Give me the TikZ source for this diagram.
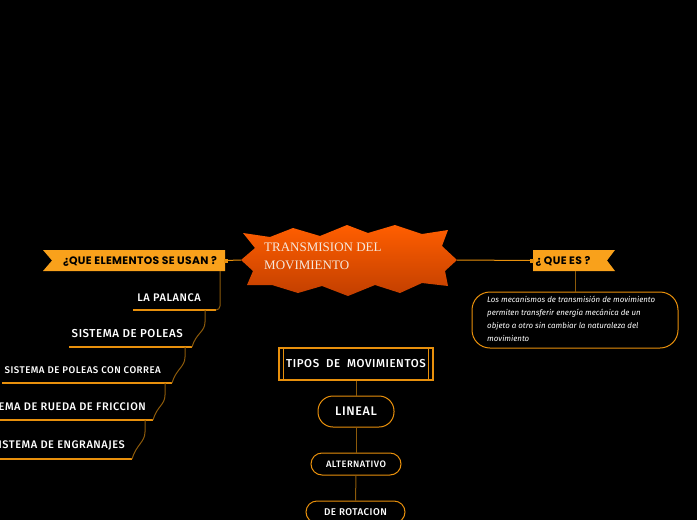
\documentclass[tikz,border=0pt]{standalone}
\usepackage{fontspec}
\setmainfont{Fira Sans}
\newfontfamily\hand{Fira Sans}[UprightFont=* Medium, LetterSpace=5]
\newfontfamily\bannerfont{Poppins}[LetterSpace=3]
\newfontfamily\titlefont{Liberation Serif}
\usetikzlibrary{calc,positioning}
\definecolor{lineorange}{HTML}{E8900C}
\definecolor{linkbrown}{HTML}{8C5A0A}
\definecolor{bannerfill}{HTML}{F9A11B}
\definecolor{startop}{HTML}{FF5E00}
\definecolor{starbot}{HTML}{C23F00}
\definecolor{titletext}{HTML}{F6E8DC}
\tikzset{
	rule/.style={draw=lineorange, line width=1.3pt},
	linkc/.style={draw=linkbrown, line width=1pt},
	mainc/.style={draw=lineorange, line width=1pt},
	item/.style={text=white, inner sep=0pt, anchor=base east},
	pill/.style={draw=lineorange, line width=1pt, rounded corners=11pt, text=white, inner sep=0pt},
	banner/.style={fill=bannerfill},
}
\begin{document}
\begin{tikzpicture}[x=1pt, y=-1pt]
		%%%%% START %%%%%
		\fill[black] (0,0) rectangle (697,520);
		\useasboundingbox (0,0) rectangle (697,520);
		
		% central star
		\shade[top color=startop, bottom color=starbot] (243,233) -- (270,237) -- (293,228) -- (320,236) -- (347,225) -- (368,233) -- (395,225) -- (422,234) -- (448,230) -- (442,246) -- (457,260) -- (445,271) -- (448,286) -- (422,283) -- (400,293) -- (375,285) -- (348,296) -- (322,286) -- (298,293) -- (272,285) -- (247,285) -- (253,271) -- (241,260) -- (255,248) -- cycle;
		\node[text=titletext, font=\titlefont\fontsize{13}{18}\selectfont, align=left, anchor=north west, inner sep=0pt] (title) at (264,242.5) {TRANSMISION DEL\\MOVIMIENTO};
		\coordinate (starL) at (241,260);
		\coordinate (starR) at (457,260);
		
		% left banner
		\fill[banner] (43,250) -- (225,250) -- (225,271) -- (43,271) -- (52,260.5) -- cycle;
		\node[font=\bannerfont\bfseries\fontsize{10.8}{12}\selectfont, inner sep=0pt] (usan) at (140,261) {¿QUE ELEMENTOS SE USAN ?};
		\coordinate (usanR) at (225,260.5);
		\coordinate (usanB) at (220,271);
		\draw[mainc] (starL) -- (usanR);
		\fill[lineorange] (224,258.5) rectangle (228,262.5);
		
		% list of elements
		\node[item, font=\hand\fontsize{11}{12}\selectfont] (palanca) at (201,301) {LA PALANCA};
		\node[item, font=\hand\fontsize{11.5}{14}\selectfont] (poleas) at (183,337.5) {SISTEMA DE POLEAS};
		\node[item, font=\hand\fontsize{9.7}{11}\selectfont] (correa) at (161,373.5) {SISTEMA DE POLEAS CON CORREA};
		\node[item, font=\hand\fontsize{11}{12}\selectfont] (rueda) at (146,410.5) {SISTEMA DE RUEDA DE FRICCION};
		\node[item, font=\hand\fontsize{11}{14}\selectfont] (engranajes) at (125,448.5) {SISTEMA DE ENGRANAJES};
		
		\coordinate (palR) at (216,310);
		\coordinate (polR) at (192,347);
		\coordinate (corR) at (172,383);
		\coordinate (rueR) at (153,420);
		\coordinate (engR) at (132,459);
		\draw[rule] (133,310) -- (palR);
		\draw[rule] (69,347) -- (polR);
		\draw[rule] (2,383) -- (corR);
		\draw[rule] (-2,420) -- (rueR);
		\draw[rule] (-2,459) -- (engR);
		
		\draw[linkc, rounded corners=4pt] (usanB) |- (palR);
		\draw[linkc] (205,310) -- ++(0,12) .. controls +(0,10) and +(4,-14) .. (polR);
		\draw[linkc] (185,347) -- ++(0,10) .. controls +(0,10) and +(4,-14) .. (corR);
		\draw[linkc] (165,383) -- ++(0,12) .. controls +(0,10) and +(4,-14) .. (rueR);
		\draw[linkc] (145,420) -- ++(0,12) .. controls +(0,10) and +(4,-14) .. (engR);
		
		% right banner
		\fill[banner] (533,250) -- (615,250) -- (607,260.5) -- (615,271) -- (533,271) -- cycle;
		\node[font=\bannerfont\bfseries\fontsize{10.8}{12}\selectfont, inner sep=0pt] (quees) at (563,261) {¿ QUE ES ?};
		\coordinate (queesL) at (533,260.5);
		\coordinate (queesB) at (575,271);
		\draw[mainc] (starR) -- (queesL);
		\fill[lineorange] (530,258.5) rectangle (534,262.5);
		
		\node[draw=lineorange, line width=1pt, rounded corners=18pt, minimum width=206pt, minimum height=56pt, inner sep=0pt] (defbox) at (575,320) {};
		\node[text=white, font=\itshape\fontsize{7.9}{13}\selectfont, align=left, anchor=north west, inner sep=0pt] (deftext) at (487,296) {Los mecanismos de transmisión de movimiento\\permiten transferir energía mecánica de un\\objeto a otro sin cambiar la naturaleza del\\movimiento};
		\draw[linkc] (queesB) -- (defbox.north);
		
		% tipos de movimientos
		\node[draw=lineorange, line width=1.2pt, minimum width=154pt, minimum height=32pt, inner sep=0pt, text=white, font=\hand\fontsize{11.5}{14}\selectfont] (tipos) at (356,364) {TIPOS\ \ DE\ \ MOVIMIENTOS};
		\draw[lineorange, line width=1pt] ($(tipos.north west)+(5,0)$) -- ($(tipos.south west)+(5,0)$);
		\draw[lineorange, line width=1pt] ($(tipos.north east)+(-5,0)$) -- ($(tipos.south east)+(-5,0)$);
		
		\node[pill, rounded corners=15pt, minimum width=76pt, minimum height=31pt, font=\hand\fontsize{12.5}{14}\selectfont] (lineal) at (356,411.5) {LINEAL};
		\node[pill, minimum width=90pt, minimum height=22pt, font=\hand\fontsize{9.3}{11}\selectfont] (alternativo) at (356,464) {ALTERNATIVO};
		\node[pill, minimum width=99pt, minimum height=22pt, font=\hand\fontsize{9.8}{11}\selectfont] (rotacion) at (355.5,512) {DE ROTACION};
		
		\draw[linkc] (tipos.south) -- (lineal.north);
		\draw[linkc] (lineal.south) -- (alternativo.north);
		\draw[linkc] (alternativo.south) -- (rotacion.north);
		%%%%% END %%%%%
	\end{tikzpicture}
\end{document}
